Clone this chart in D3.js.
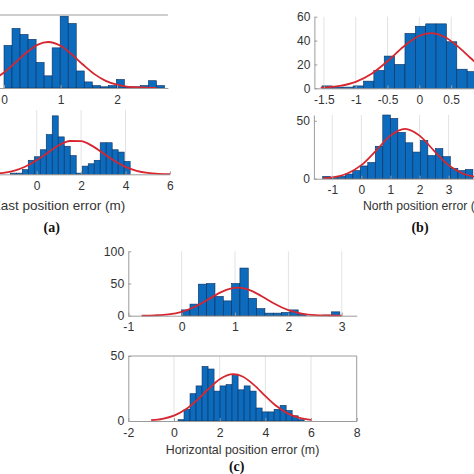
<!DOCTYPE html>
<html lang="en">
<head>
    <meta charset="utf-8"/>
    <title>Position error histograms</title>
    <script src="https://cdn.jsdelivr.net/npm/d3@7"></script>
    <style>
        body { margin: 0; background: #fff; }
        svg { display: block; }
        text { font-family: "Liberation Sans", Arial, sans-serif; }
    </style>
</head>
<body>
<svg id="fig" width="474" height="474"></svg>
<script>
    // ---- data ----
    // (a) East, top
    const eastTopStart = 0, eastTopWidth = 0.142;
    const eastTopCounts = [35, 49, 44, 40, 21, 10, 33, 59, 53, 14, 5, 2, 1, 2, 7, 1, 1, 2, 6, 2];
    const eastTopFitX = [-0.2, -0.1, 0, 0.2, 0.4, 0.6, 0.78, 1.0, 1.2, 1.4, 1.6, 1.8, 2.0, 2.2, 2.4, 2.6, 2.7];
    const eastTopFitY = [6.8, 9.5, 12.8, 20.8, 29.2, 35.7, 37.8, 34.7, 27.6, 19.1, 11.4, 5.9, 2.7, 1.0, 0.4, 0.1, 0.05];
    const eastTopXTicks = [-1, 0, 1, 2];
    const eastTopYTicks = [0, 20, 40, 60];

    // (a) East, bottom
    const eastBotStart = -1.19, eastBotWidth = 0.27;
    const eastBotCounts = [1, 1, 4, 12, 15, 21, 34, 50, 32, 24, 16, 1, 7, 9, 12, 27, 27, 21, 19, 11];
    const eastBotFitX = [-2, -1.5, -1, -0.5, 0, 0.5, 1, 1.5, 2, 2.5, 3, 3.5, 4, 4.5, 5, 5.5, 6];
    const eastBotFitY = [0.5, 1.3, 3.2, 6.7, 12.0, 18.5, 24.8, 28.5, 28.4, 24.3, 18.0, 11.5, 6.3, 3.0, 1.2, 0.4, 0.1];
    const eastBotXTicks = [-4, -2, 0, 2, 4, 6];
    const eastBotYTicks = [0, 50];

    // (b) North, top
    const northTopStart = -1.53, northTopWidth = 0.163;
    const northTopCounts = [2, 1, 1, 2, 6, 15, 27, 20, 46, 52, 54, 54, 39, 16, 14];
    const northTopFitX = [-1.55, -1.25, -1, -0.75, -0.5, -0.25, 0, 0.18, 0.4, 0.6, 0.8, 1.0, 1.2];
    const northTopFitY = [0.5, 2.0, 5.4, 12.2, 22.7, 34.8, 44.0, 46.3, 43.0, 35.3, 25.6, 16.5, 9.3];
    const northTopXTicks = [-1.5, -1, -0.5, 0, 0.5, 1, 1.5, 2];
    const northTopYTicks = [0, 20, 40, 60];

    // (b) North, bottom
    const northBotStart = -1.327, northBotWidth = 0.258;
    const northBotCounts = [2, 1, 2, 4, 7, 11, 14, 28, 55, 52, 40, 31, 23, 33, 20, 26, 19, 9, 7, 8];
    const northBotFitX = [-1.3, -1, -0.5, 0, 0.5, 1, 1.5, 2, 2.5, 3, 3.5, 4];
    const northBotFitY = [0.5, 1.2, 4.3, 11.7, 24.1, 37.2, 43, 37.2, 24.1, 11.7, 4.3, 1.2];
    const northBotXTicks = [-1, 0, 1, 2, 3, 4, 5, 6];
    const northBotYTicks = [0, 50];

    // (c) Horizontal, top
    const horTopStart = 0, horTopWidth = 0.156;
    const horTopCounts = [9, 18, 49, 50, 30, 23, 50, 74, 27, 11, 4, 4, 5, 9, 2, 0, 0, 1, 6];
    const horTopFitX = [-0.75, -0.5, -0.25, 0, 0.25, 0.5, 0.75, 1.05, 1.25, 1.5, 1.75, 2, 2.25, 2.5, 2.75, 3];
    const horTopFitY = [0.1, 0.6, 2.1, 6.1, 13.9, 25.4, 37.1, 43.5, 40.5, 30.3, 18.2, 8.7, 3.4, 1.0, 0.3, 0.05];
    const horTopXTicks = [-1, 0, 1, 2, 3];
    const horTopYTicks = [0, 50, 100];

    // (c) Horizontal, bottom
    const horBotStart = 0.177, horBotWidth = 0.263;
    const horBotCounts = [1, 9, 21, 27, 42, 40, 23, 27, 28, 35, 24, 27, 23, 10, 7, 7, 9, 12, 8, 4, 1];
    const horBotFitX = [-1, -0.5, 0, 0.5, 1, 1.5, 2, 2.6, 3, 3.5, 4, 4.5, 5, 5.5, 6];
    const horBotFitY = [0.6, 1.7, 4.1, 8.8, 15.9, 24.4, 32.1, 36, 34.2, 27.8, 19.2, 11.3, 5.7, 2.4, 0.9];
    const horBotXTicks = [-2, 0, 2, 4, 6, 8];
    const horBotYTicks = [0, 50];

    const axisTitles = ["East position error (m)", "North position error (m)", "Horizontal position error (m)"];
    const panelTags = ["(a)", "(b)", "(c)"];

    // ---- layout: where each axes sits on the page ----
    // box: "top" = solo línea superior, "full" = línea superior y derecha
    const panels = [
        {start: eastTopStart, width: eastTopWidth, counts: eastTopCounts, fitX: eastTopFitX, fitY: eastTopFitY,
            xTicks: eastTopXTicks, yTicks: eastTopYTicks,
            xDomain: [-1, 2.9], xRange: [-52.5, 167.9], yDomain: [0, 60], yRange: [88, 15], grid: false, box: "top", font: 12},
        {start: eastBotStart, width: eastBotWidth, counts: eastBotCounts, fitX: eastBotFitX, fitY: eastBotFitY,
            xTicks: eastBotXTicks, yTicks: eastBotYTicks,
            xDomain: [-4, 6], xRange: [-52.1, 169.9], yDomain: [0, 55], yRange: [174.3, 110], grid: true, box: null, font: 12},
        {start: northTopStart, width: northTopWidth, counts: northTopCounts, fitX: northTopFitX, fitY: northTopFitY,
            xTicks: northTopXTicks, yTicks: northTopYTicks,
            xDomain: [-1.65, 2.1], xRange: [314.4, 552.9], yDomain: [0, 60], yRange: [88.3, 16.7], grid: true, box: null, font: 12},
        {start: northBotStart, width: northBotWidth, counts: northBotCounts, fitX: northBotFitX, fitY: northBotFitY,
            xTicks: northBotXTicks, yTicks: northBotYTicks,
            xDomain: [-1.63, 6.6], xRange: [313.9, 553.4], yDomain: [0, 55], yRange: [178.7, 115], grid: true, box: null, font: 12},
        {start: horTopStart, width: horTopWidth, counts: horTopCounts, fitX: horTopFitX, fitY: horTopFitY,
            xTicks: horTopXTicks, yTicks: horTopYTicks,
            xDomain: [-1, 3.28], xRange: [128.3, 356.7], yDomain: [0, 100], yRange: [315.7, 251.3], grid: true, box: null, font: 12.3},
        {start: horBotStart, width: horBotWidth, counts: horBotCounts, fitX: horBotFitX, fitY: horBotFitY,
            xTicks: horBotXTicks, yTicks: horBotYTicks,
            xDomain: [-2, 8], xRange: [128.3, 356.7], yDomain: [0, 50], yRange: [421, 356], grid: true, box: "full", font: 12.3}
    ];

    const W = 474;
    const svg = d3.select("#fig");

    function drawPanel(p) {
        const x = d3.scaleLinear().domain(p.xDomain).range(p.xRange);
        const y = d3.scaleLinear().domain(p.yDomain).range(p.yRange);
        const g = svg.append("g");

        // grilla vertical clarita
        if (p.grid) {
            g.selectAll("line.grid")
                .data(p.xTicks.filter(t => t > p.xDomain[0] && t < p.xDomain[1]))
                .enter().append("line")
                .attr("class", "grid")
                .attr("x1", d => x(d)).attr("x2", d => x(d))
                .attr("y1", p.yRange[0]).attr("y2", p.yRange[1])
                .attr("stroke", "#e3e3e3").attr("stroke-width", 1);
        }

        // barras del histograma
        const bins = p.counts.map((c, i) => ({x0: p.start + i * p.width, x1: p.start + (i + 1) * p.width, c: c}));
        g.selectAll("rect")
            .data(bins.filter(b => b.c > 0)).enter()
            .append("rect")
            .attr("x", d => x(d.x0))
            .attr("width", d => x(d.x1) - x(d.x0))
            .attr("y", d => y(Math.min(d.c, p.yDomain[1])))
            .attr("height", d => y(0) - y(Math.min(d.c, p.yDomain[1])))
            .attr("fill", "#0d6bbd")
            .attr("stroke", "#0b2f5c")
            .attr("stroke-width", 0.6);

        // curva normal ajustada
        const fit = p.fitX.map((v, i) => [v, p.fitY[i]]);
        g.append("path")
            .datum(fit)
            .attr("fill", "none")
            .attr("stroke", "#d7262f")
            .attr("stroke-width", 1.8)
            .attr("d", d3.line().x(d => x(d[0])).y(d => y(d[1])).curve(d3.curveMonotoneX));

        // ejes (solo las etiquetas que caen dentro de la imagen)
        const visX = p.xTicks.filter(t => x(t) >= 0 && x(t) <= W);
        const visY = p.xRange[0] >= 0 ? p.yTicks : [];

        const xAxis = g.append("g")
            .attr("transform", `translate(0,${p.yRange[0]})`)
            .call(d3.axisBottom(x).tickValues(visX).tickFormat(d => String(d))
                .tickSizeInner(-3).tickSizeOuter(0).tickPadding(7));
        const yAxis = g.append("g")
            .attr("transform", `translate(${p.xRange[0]},0)`)
            .call(d3.axisLeft(y).tickValues(visY).tickFormat(d => String(d))
                .tickSizeInner(-3).tickSizeOuter(0).tickPadding(4));

        [xAxis, yAxis].forEach(a => {
            a.select(".domain").attr("stroke", "#9c9c9c");
            a.selectAll(".tick line").attr("stroke", "#9c9c9c");
            a.selectAll(".tick text").attr("fill", "#333").style("font-size", p.font + "px");
        });

        if (p.box === "top") {
            g.append("path")
                .attr("d", `M${p.xRange[0]},${p.yRange[1]}H${p.xRange[1]}`)
                .attr("stroke", "#9c9c9c");
        } else if (p.box === "full") {
            g.append("path")
                .attr("d", `M${p.xRange[0]},${p.yRange[1]}H${p.xRange[1]}V${p.yRange[0]}`)
                .attr("fill", "none")
                .attr("stroke", "#9c9c9c");
        }
    }

    panels.forEach(drawPanel);

    // títulos de los ejes x
    const titlePos = [[58.5, 205.7, 13.5], [426, 206, 12.2], [242.5, 449.3, 12.4]];
    svg.selectAll("text.xtitle")
        .data(axisTitles).enter()
        .append("text")
        .attr("class", "xtitle")
        .attr("x", (d, i) => titlePos[i][0])
        .attr("y", (d, i) => titlePos[i][1])
        .attr("dy", "0.35em")
        .attr("text-anchor", "middle")
        .attr("fill", "#333")
        .style("font-size", (d, i) => titlePos[i][2] + "px")
        .text(d => d);

    // etiquetas (a) (b) (c)
    const tagPos = [[51.7, 226.7], [420, 226.7], [236.7, 466]];
    svg.selectAll("text.tag")
        .data(panelTags).enter()
        .append("text")
        .attr("class", "tag")
        .attr("x", (d, i) => tagPos[i][0])
        .attr("y", (d, i) => tagPos[i][1])
        .attr("dy", "0.35em")
        .attr("text-anchor", "middle")
        .attr("fill", "#111")
        .style("font-family", "'Liberation Serif', 'Times New Roman', serif")
        .style("font-weight", "bold")
        .style("font-size", "14px")
        .text(d => d);
</script>
</body>
</html>
